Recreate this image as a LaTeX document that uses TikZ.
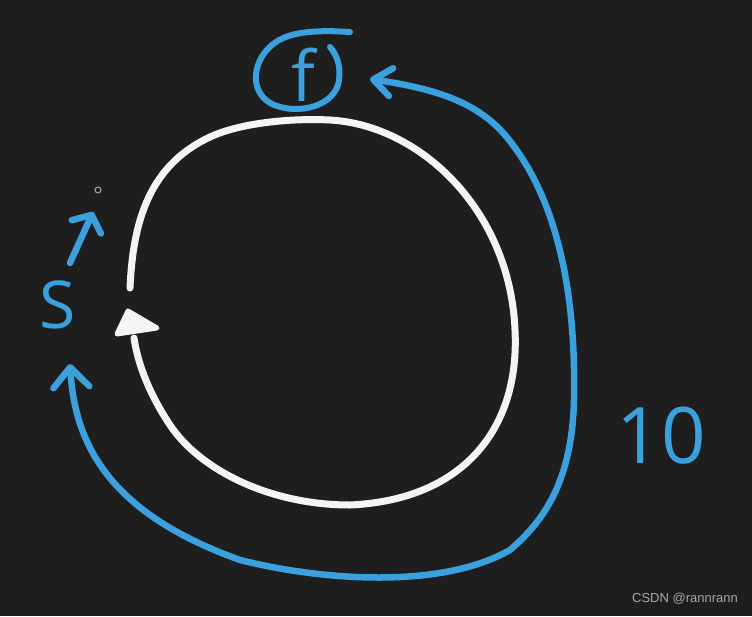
\documentclass[tikz,border=0pt]{standalone}
\usepackage{fontspec}
\setmainfont{Open Sans}
\newfontfamily\wmfont{Liberation Sans}
\usetikzlibrary{arrows.meta}
\definecolor{bg}{HTML}{1E1E1F}
\definecolor{penblue}{HTML}{3AA0DE}
\definecolor{penwhite}{HTML}{F4F4F4}
\definecolor{wmgray}{HTML}{A8A8A8}
\tikzset{
  whiteline/.style={draw=penwhite, line width=7pt, line cap=round, line join=round},
  blueline/.style={draw=penblue, line width=6.5pt, line cap=round, line join=round},
  bluetext/.style={text=penblue, inner sep=0pt},
}
\begin{document}
\begin{tikzpicture}[x=1pt,y=-1pt]
\fill[bg] (0,0) rectangle (752,616);
\useasboundingbox (0,0) rectangle (752,616);

% labels
\node[bluetext, font=\fontsize{66}{66}\selectfont] (S) at (58,305) {S};
\node[bluetext, font=\fontsize{78}{78}\selectfont] (ten) at (661,436) {10};
\node[bluetext, font=\fontsize{70}{70}\selectfont] (f) at (303,75) {f};
\node[text=wmgray, inner sep=0pt, font=\wmfont\fontsize{13}{13}\selectfont] (wm) at (685,599) {CSDN @rannrann};

% hand-drawn ring around f
\draw[blueline, line width=6pt] (350,32) .. controls (320,30) and (292,31) .. (276,42)
  .. controls (252,58) and (248,92) .. (272,104)
  .. controls (298,116) and (336,106) .. (339,80)
  .. controls (341,64) and (336,54) .. (330,47);

% white loop
\draw[whiteline] (130,288) .. controls (133,220) and (150,165) .. (210,137)
  .. controls (240,123) and (290,118) .. (330,120)
  .. controls (420,125) and (510,210) .. (515,330)
  .. controls (520,430) and (462,500) .. (350,505)
  .. controls (270,505) and (200,470) .. (170,425)
  .. controls (150,395) and (138,365) .. (134,338);
\filldraw[penwhite, line width=5pt, line join=round] (117,334) -- (128,311) -- (157,328) -- cycle;

% blue outer arrow (both ends)
\coordinate (sEnd) at (70,364);
\coordinate (fEnd) at (370,79);
\draw[blueline, {Straight Barb[length=20pt,width=36pt,line cap=round,line join=round]}-{Straight Barb[length=18pt,width=28pt,line cap=round,line join=round]}]
  (sEnd) .. controls (75,450) and (115,515) .. (240,560)
  .. controls (320,580) and (440,590) .. (510,550)
  .. controls (545,520) and (572,480) .. (574,400)
  .. controls (576,300) and (560,200) .. (505,135)
  .. controls (475,100) and (430,88) .. (fEnd);

% small arrow above S
\coordinate (upTail) at (70,263);
\coordinate (upTip) at (93,212);
\draw[blueline, -{Straight Barb[length=13pt,width=32pt,line cap=round,line join=round]}] (upTail) -- (upTip);
\draw[wmgray, line width=1pt] (98,190) circle (3);
\end{tikzpicture}
\end{document}
